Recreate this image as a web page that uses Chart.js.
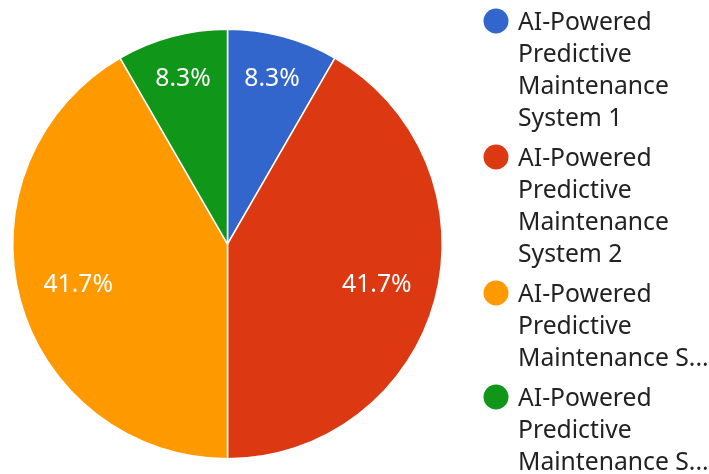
<!DOCTYPE html>
<html>
<head>
<meta charset="utf-8">
<script src="https://cdn.jsdelivr.net/npm/chart.js@4.4.1/dist/chart.umd.min.js"></script>
<style>
  html, body { margin: 0; padding: 0; background: #fff; }
  #wrap { width: 709px; height: 474px; position: relative; }
</style>
</head>
<body>
<div id="wrap"><canvas id="pieChart"></canvas></div>
<script>
// Daten
const systemLabels = [
  'AI-Powered Predictive Maintenance System 1',
  'AI-Powered Predictive Maintenance System 2',
  'AI-Powered Predictive Maintenance System 3',
  'AI-Powered Predictive Maintenance System 4'
];
const systemValues = [1, 5, 5, 1];
const sliceColors = ['#3366cc', '#dc3912', '#ff9900', '#109618'];

const FONT = '"Noto Sans", sans-serif';
const FONT_SIZE = 24.7;

// Prozent-Beschriftung in den Segmenten
const sliceLabelPlugin = {
  id: 'sliceLabels',
  afterDatasetsDraw(chart) {
    const ctx = chart.ctx;
    const meta = chart.getDatasetMeta(0);
    const values = chart.data.datasets[0].data;
    const total = values.reduce((a, b) => a + b, 0);
    ctx.save();
    ctx.font = FONT_SIZE + 'px ' + FONT;
    ctx.fillStyle = '#ffffff';
    ctx.textAlign = 'center';
    ctx.textBaseline = 'middle';
    meta.data.forEach((arc, i) => {
      const p = arc.getProps(['x', 'y', 'startAngle', 'endAngle', 'outerRadius'], true);
      const mid = (p.startAngle + p.endAngle) / 2;
      const f = (p.endAngle - p.startAngle) < Math.PI / 4 ? 0.8 : 0.72;
      const x = p.x + Math.cos(mid) * p.outerRadius * f;
      const y = p.y + Math.sin(mid) * p.outerRadius * f;
      ctx.fillText((values[i] / total * 100).toFixed(1) + '%', x, y + 1);
    });
    ctx.restore();
  }
};

// Legende rechts, mit Zeilenumbruch
function wrapText(ctx, text, maxW) {
  const words = text.split(' ');
  const lines = [];
  let line = '';
  words.forEach(w => {
    const test = line ? line + ' ' + w : w;
    if (ctx.measureText(test).width > maxW && line) {
      lines.push(line);
      line = w;
    } else {
      line = test;
    }
  });
  if (line) lines.push(line);
  return lines;
}

function truncateLines(ctx, lines, maxLines, maxW) {
  if (lines.length <= maxLines) return lines;
  const kept = lines.slice(0, maxLines - 1);
  let rest = lines.slice(maxLines - 1).join(' ');
  while (rest.length && ctx.measureText(rest + '...').width > maxW) {
    rest = rest.slice(0, -1);
  }
  kept.push(rest.trimEnd() + '...');
  return kept;
}

const sideLegendPlugin = {
  id: 'sideLegend',
  afterDraw(chart) {
    const ctx = chart.ctx;
    const textX = 518;
    const dotX = 496;
    const lineH = 32;
    const gap = 8;
    const maxW = chart.width - textX + 2;
    ctx.save();
    ctx.font = FONT_SIZE + 'px ' + FONT;
    ctx.textAlign = 'left';
    ctx.textBaseline = 'alphabetic';

    let blocks = chart.data.labels.map(l => wrapText(ctx, l, maxW));
    const height = () => blocks.reduce((a, b) => a + b.length * lineH, 0) + gap * (blocks.length - 1);
    for (let i = blocks.length - 1; i >= 0 && height() > chart.height; i--) {
      blocks[i] = truncateLines(ctx, blocks[i], 3, maxW);
    }

    let y = 30;
    blocks.forEach((lines, i) => {
      ctx.fillStyle = chart.data.datasets[0].backgroundColor[i];
      ctx.beginPath();
      ctx.arc(dotX, y - 9, 12.5, 0, Math.PI * 2);
      ctx.fill();
      ctx.fillStyle = '#222222';
      lines.forEach((ln, k) => ctx.fillText(ln, textX, y + k * lineH));
      y += lines.length * lineH + gap;
    });
    ctx.restore();
  }
};

const ctx = document.getElementById('pieChart').getContext('2d');
new Chart(ctx, {
  type: 'pie',
  data: {
    labels: systemLabels,
    datasets: [{
      data: systemValues,
      backgroundColor: sliceColors,
      borderColor: '#ffffff',
      borderWidth: 1.5
    }]
  },
  options: {
    responsive: true,
    maintainAspectRatio: false,
    animation: false,
    layout: { padding: { left: 12, top: 28, right: 266, bottom: 14 } },
    plugins: {
      legend: { display: false },
      tooltip: { enabled: false }
    }
  },
  plugins: [sliceLabelPlugin, sideLegendPlugin]
});
</script>
</body>
</html>
